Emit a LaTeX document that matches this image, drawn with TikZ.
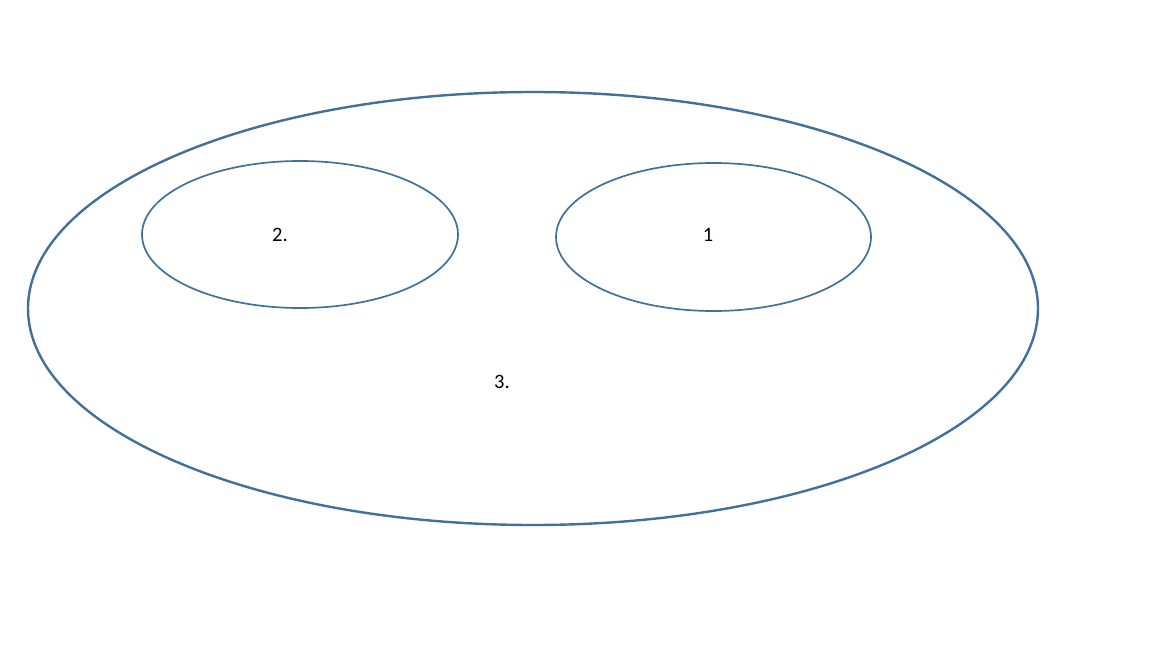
\documentclass[tikz,border=0pt]{standalone}
\usepackage{fontspec}
\setmainfont{Carlito}
\begin{document}
\begin{tikzpicture}[x=1pt,y=-1pt,
  ring/.style={draw=ringblue},
  lbl/.style={font=\fontsize{20.5}{24}\selectfont, inner sep=0pt}]
\definecolor{ringblue}{HTML}{41709A}
\useasboundingbox (0,0) rectangle (1150,650);
\draw[ring, line width=2.4pt] (533,308.5) ellipse [x radius=505, y radius=216.5];
\draw[ring, line width=1.7pt] (300,234.5) ellipse [x radius=158, y radius=73.5];
\draw[ring, line width=1.7pt] (713.5,237) ellipse [x radius=157.5, y radius=74];
\node[lbl] (two) at (280,235) {2.};
\node[lbl] (one) at (708,235) {1};
\node[lbl] (three) at (502,382) {3.};
\end{tikzpicture}
\end{document}
